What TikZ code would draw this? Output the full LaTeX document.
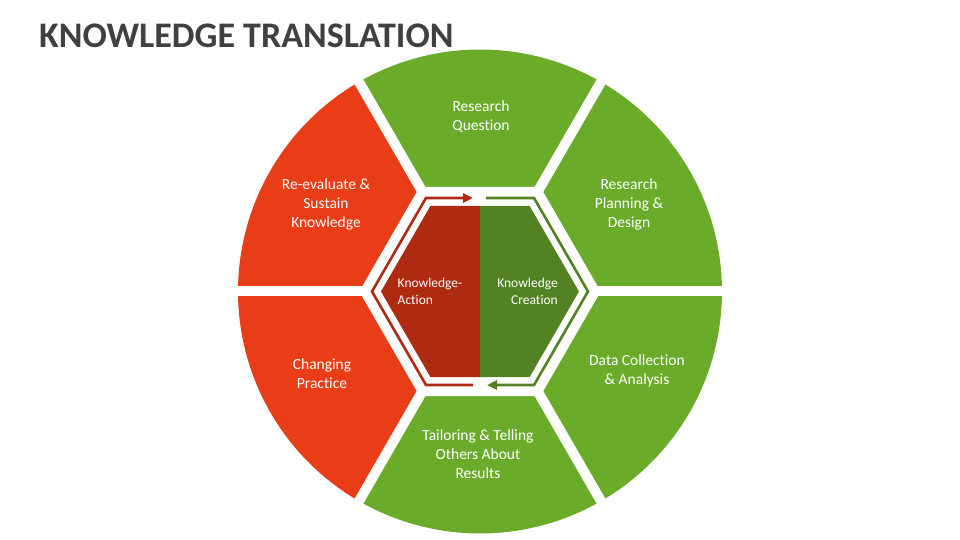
\documentclass[tikz,border=0pt]{standalone}
\usepackage{fontspec}
\setmainfont[Ligatures=NoCommon]{Carlito}
\usetikzlibrary{arrows.meta}
\definecolor{segGreen}{RGB}{106,172,42}
\definecolor{segRed}{RGB}{232,61,22}
\definecolor{hexRed}{RGB}{174,42,16}
\definecolor{hexGreen}{RGB}{82,130,34}
\definecolor{titleGray}{RGB}{64,64,64}
\tikzset{
  seglabel/.style={text=white, align=center, inner sep=0pt, font=\fontsize{15.5}{19}\selectfont},
  hexlabel/.style={text=white, inner sep=0pt, font=\fontsize{13.5}{16.5}\selectfont},
  gapline/.style={white, line width=10pt},
  cycleline/.style={line width=2.6pt, line join=miter, -{Triangle[length=10pt,width=9pt]}}
}
\begin{document}
\begin{tikzpicture}[x=1pt,y=1pt]
\useasboundingbox (-480,-248.5) rectangle (480,291.5);
% outer ring segments
\foreach \a/\c in {60/segGreen, 0/segGreen, -60/segGreen, 240/segGreen, 180/segRed, 120/segRed}
  \fill[\c] (0,0) -- (\a:242) arc[start angle=\a, end angle=\a+60, radius=242] -- cycle;
% white gaps
\fill[white] (0:120.7) -- (60:120.7) -- (120:120.7) -- (180:120.7) -- (240:120.7) -- (300:120.7) -- cycle;
\foreach \a in {0,60,...,300}
  \draw[gapline] (0,0) -- (\a:250);
% inner hexagon
\coordinate (hT) at (0,85.7);
\coordinate (hB) at (0,-85.7);
\fill[hexRed] (hT) -- (120:99) -- (180:99) -- (240:99) -- (hB) -- cycle;
\fill[hexGreen] (hT) -- (60:99) -- (0:99) -- (300:99) -- (hB) -- cycle;
% cycle arrows
\coordinate (rS) at (-7,-93.5);
\coordinate (rE) at (-7,93.5);
\coordinate (gS) at (6,93.5);
\coordinate (gE) at (7,-93.5);
\draw[cycleline, hexRed] (rS) -- (240:108) -- (180:108) -- (120:108) -- (rE);
\draw[cycleline, hexGreen] (gS) -- (60:108) -- (0:108) -- (300:108) -- (gE);
% labels
\node[hexlabel, anchor=west, align=left] (ka) at (-82.5,0) {Knowledge-\\Action};
\node[hexlabel, anchor=east, align=right] (kc) at (78,0) {Knowledge\\Creation};
\node[seglabel] (rq) at (1,174.5) {Research\\Question};
\node[seglabel] (re) at (-154,87.5) {Re-evaluate \&\\Sustain\\Knowledge};
\node[seglabel] (rp) at (149,87.5) {Research\\Planning \&\\Design};
\node[seglabel] (cp) at (-158,-82) {Changing\\Practice};
\node[seglabel] (dc) at (157,-79.5) {Data Collection\\\& Analysis};
\node[seglabel] (tt) at (-2,-162.5) {Tailoring \& Telling\\Others About\\Results};
% title
\node[anchor=base west, inner sep=0pt, text=titleGray, font=\bfseries\fontsize{36}{40}\selectfont] (title) at (-441,244) {KNOWLEDGE TRANSLATION};
\end{tikzpicture}
\end{document}
